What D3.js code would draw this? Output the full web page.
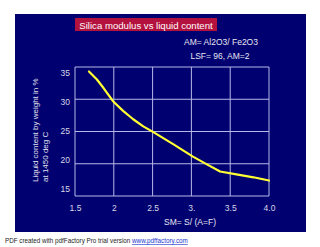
<!DOCTYPE html>
<html>
<head>
<meta charset="utf-8">
<script src="https://cdn.jsdelivr.net/npm/d3@7"></script>
<style>
  body { margin: 0; background: #fff; }
  text { font-family: "Liberation Sans", Arial, sans-serif; }
</style>
</head>
<body>
<svg width="320" height="247"></svg>
<script>
const svg = d3.select("svg");

// data
const sm = [1.68, 1.78, 1.87, 1.99, 2.12, 2.25, 2.38, 2.51, 2.77, 3.02, 3.2, 3.37, 3.58, 3.8, 4.0];
const liquid = [34.3, 33.1, 31.7, 29.7, 28.2, 26.9, 25.8, 24.9, 23.0, 21.1, 19.9, 18.8, 18.35, 17.9, 17.4];
const xTicks = [1.5, 2, 2.5, 3, 3.5, 4];
const xTickLabels = ["1.5", "2", "2.5", "3.", "3.5", "4.0"];
const yTicks = [15, 20, 25, 30, 35];

const x = d3.scaleLinear().domain([1.5, 4]).range([75, 269]);
const y = d3.scaleLinear().domain([15, 35]).range([196, 67]);
// the tick labels in the source sit a bit inside the grid
const yLabel = d3.scaleLinear().domain([15, 35]).range([191.5, 75.5]);

// slide background
svg.append("rect").attr("x", 15).attr("y", 14).attr("width", 291).attr("height", 218)
  .attr("fill", "#000070");

// title box
svg.append("rect").attr("x", 75).attr("y", 18).attr("width", 142).attr("height", 13)
  .attr("fill", "#b3123e");
svg.append("text").attr("x", 146).attr("y", 28.5).attr("text-anchor", "middle")
  .attr("fill", "#fff").attr("font-size", 9.6).text("Silica modulus vs liquid content");

svg.append("text").attr("x", 221).attr("y", 44.5).attr("text-anchor", "middle")
  .attr("fill", "#e8e8f0").attr("font-size", 8.5).text("AM= Al2O3/ Fe2O3");
svg.append("text").attr("x", 220).attr("y", 58.5).attr("text-anchor", "middle")
  .attr("fill", "#e8e8f0").attr("font-size", 8.5).text("LSF= 96, AM=2");

// grid
const grid = svg.append("g").attr("stroke", "#b8b8e8").attr("stroke-width", 1);
grid.selectAll("line.v").data(xTicks).join("line")
  .attr("x1", d => x(d)).attr("x2", d => x(d)).attr("y1", y(35)).attr("y2", y(15));
grid.selectAll("line.h").data(yTicks).join("line")
  .attr("x1", x(1.5)).attr("x2", x(4)).attr("y1", d => y(d)).attr("y2", d => y(d));

// axes labels
const xAxis = d3.axisBottom(x).tickValues(xTicks).tickFormat((d, i) => xTickLabels[i]).tickSize(0).tickPadding(9);
svg.append("g").attr("transform", `translate(0,${y(15)})`).call(xAxis)
  .call(g => g.select(".domain").remove())
  .call(g => g.selectAll("text").attr("fill", "#d8d8e8").attr("font-size", 8.5).attr("font-family", null));

svg.append("g").selectAll("text").data(yTicks).join("text")
  .attr("x", 70).attr("y", d => yLabel(d)).attr("text-anchor", "end")
  .attr("fill", "#d8d8e8").attr("font-size", 8.5).text(d => d);

// curve
svg.append("path").datum(sm.map((d, i) => [d, liquid[i]]))
  .attr("fill", "none").attr("stroke", "#ffff33").attr("stroke-width", 2.2)
  .attr("stroke-linejoin", "round").attr("stroke-linecap", "round")
  .attr("d", d3.line().x(d => x(d[0])).y(d => y(d[1])));

// axis titles
svg.append("text").attr("x", 190).attr("y", 225).attr("text-anchor", "middle")
  .attr("fill", "#e8e8f0").attr("font-size", 8.5).text("SM= S/ (A=F)");

const yt = svg.append("text").attr("transform", "translate(38,182) rotate(-90)")
  .attr("fill", "#e0e0ee").attr("font-size", 8);
yt.append("tspan").attr("x", 0).attr("y", 0).text("Liquid content by weight in %");
yt.append("tspan").attr("x", 0).attr("y", 10).text("at 1450 deg C");

// footer
const ft = svg.append("text").attr("x", 5).attr("y", 243).attr("font-size", 6.3).attr("fill", "#222");
ft.append("tspan").text("PDF created with pdfFactory Pro trial version ");
ft.append("tspan").attr("fill", "#2233cc").attr("text-decoration", "underline").text("www.pdffactory.com");
</script>
</body>
</html>
